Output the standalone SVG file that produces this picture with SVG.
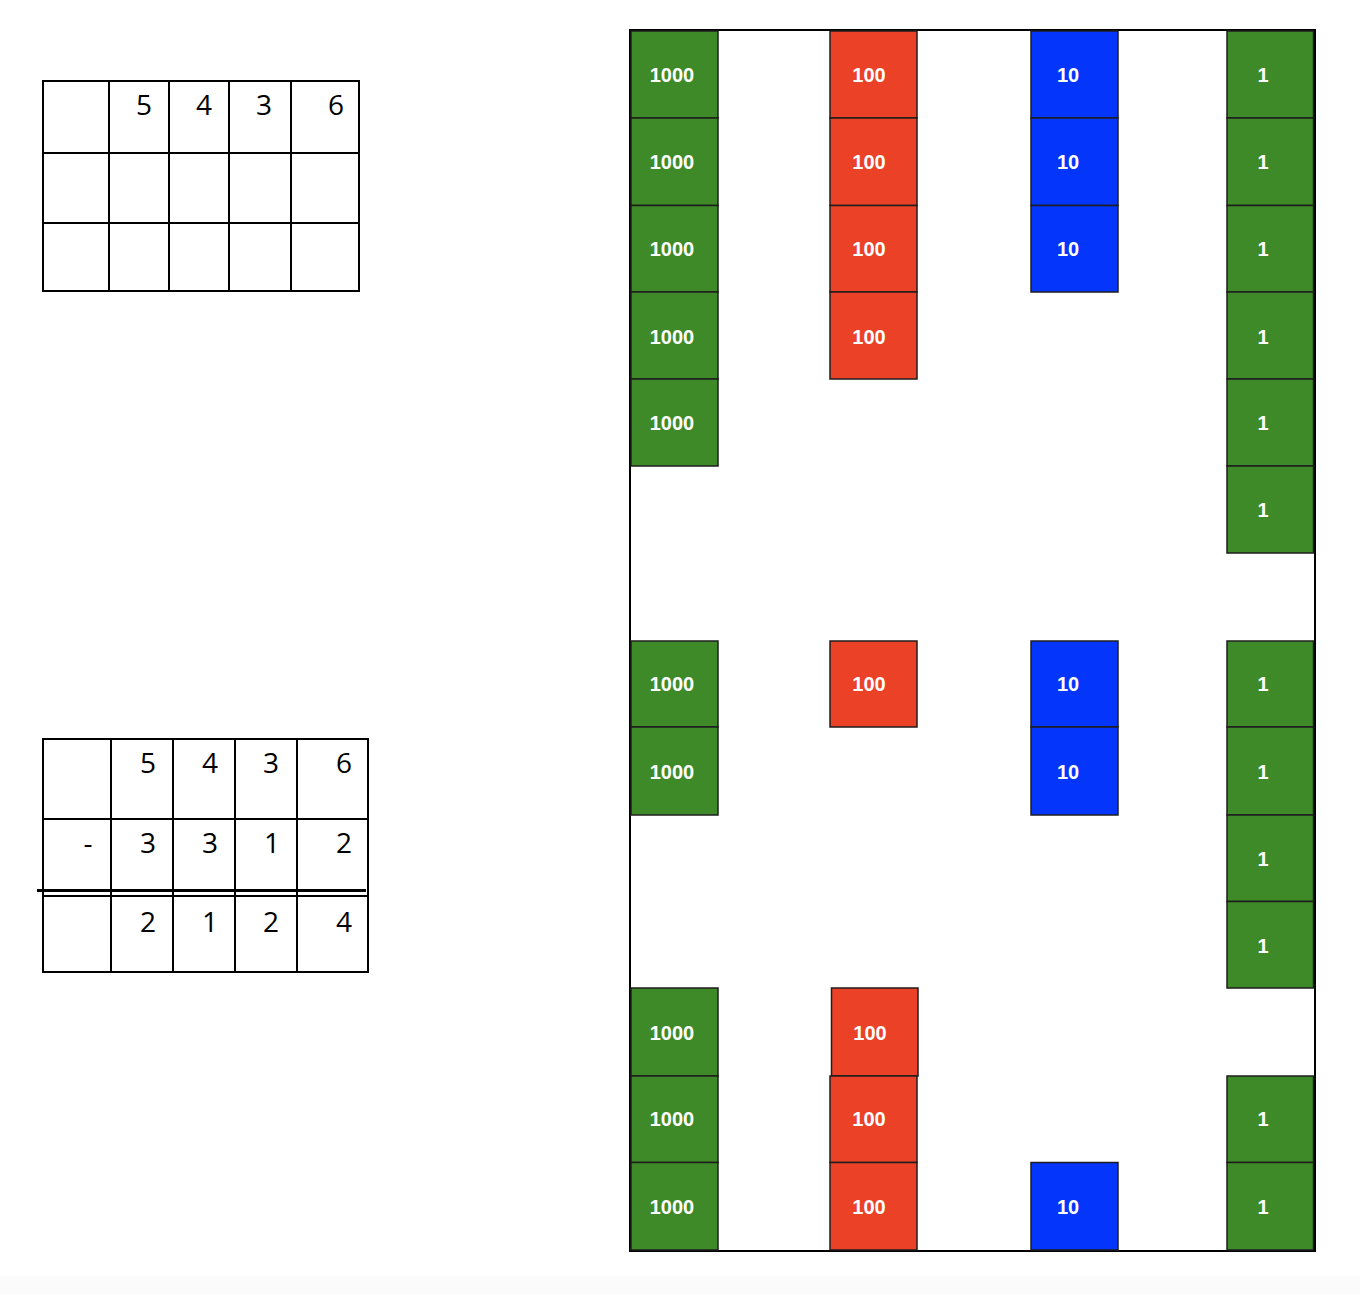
<svg xmlns="http://www.w3.org/2000/svg" width="1360" height="1294" viewBox="0 0 1360 1294">
<style>
.grid{fill:none;stroke:#000;stroke-width:2}
.num{font-family:"Open Sans","Liberation Sans",sans-serif;font-size:28px;fill:#000;text-anchor:middle}
.blk{stroke:#1e1e1e;stroke-width:1.5}
.th{fill:#3e8a28}
.hu{fill:#eb4126}
.te{fill:#0336fa}
.on{fill:#3e8a28}
.lbl{font-family:"Liberation Sans",Arial,sans-serif;font-weight:bold;font-size:20px;fill:#fff;text-anchor:middle}
</style>
<rect x="0" y="0" width="1360" height="1294" fill="#fff"/>
<rect x="0" y="1276" width="1360" height="18" fill="#fbfbfb"/>

<g id="table-top">
<rect class="grid" x="43" y="81" width="316" height="210"/>
<line class="grid" x1="109" y1="81" x2="109" y2="291"/>
<line class="grid" x1="169" y1="81" x2="169" y2="291"/>
<line class="grid" x1="229" y1="81" x2="229" y2="291"/>
<line class="grid" x1="291" y1="81" x2="291" y2="291"/>
<line class="grid" x1="43" y1="153" x2="359" y2="153"/>
<line class="grid" x1="43" y1="223" x2="359" y2="223"/>
<text class="num" x="144" y="115">5</text>
<text class="num" x="204" y="115">4</text>
<text class="num" x="264" y="115">3</text>
<text class="num" x="336" y="115">6</text>
</g>

<g id="table-bottom">
<rect class="grid" x="43" y="739" width="325" height="233"/>
<line class="grid" x1="111" y1="739" x2="111" y2="972"/>
<line class="grid" x1="173" y1="739" x2="173" y2="972"/>
<line class="grid" x1="235" y1="739" x2="235" y2="972"/>
<line class="grid" x1="297" y1="739" x2="297" y2="972"/>
<line class="grid" x1="43" y1="819" x2="368" y2="819"/>
<line class="grid" x1="43" y1="896" x2="368" y2="896"/>
<line x1="37" y1="890.5" x2="366" y2="890.5" stroke="#000" stroke-width="3"/>
<text class="num" x="148" y="773">5</text>
<text class="num" x="210" y="773">4</text>
<text class="num" x="271" y="773">3</text>
<text class="num" x="344" y="773">6</text>
<text class="num" x="88" y="853">-</text>
<text class="num" x="148" y="853">3</text>
<text class="num" x="210" y="853">3</text>
<text class="num" x="272" y="853">1</text>
<text class="num" x="344" y="853">2</text>
<text class="num" x="148" y="932">2</text>
<text class="num" x="210" y="932">1</text>
<text class="num" x="271" y="932">2</text>
<text class="num" x="344" y="932">4</text>
</g>

<g id="frame">
<rect x="630" y="30" width="685" height="1221" fill="#fff" stroke="#000" stroke-width="2"/>
</g>

<g id="thousands">
<rect class="blk th" x="631" y="31" width="87" height="87"/><text class="lbl" x="672" y="82">1000</text>
<rect class="blk th" x="631" y="118" width="87" height="87.5"/><text class="lbl" x="672" y="169">1000</text>
<rect class="blk th" x="631" y="205.5" width="87" height="86.5"/><text class="lbl" x="672" y="256">1000</text>
<rect class="blk th" x="631" y="292" width="87" height="87"/><text class="lbl" x="672" y="344">1000</text>
<rect class="blk th" x="631" y="379" width="87" height="87"/><text class="lbl" x="672" y="430">1000</text>
<rect class="blk th" x="631" y="641" width="87" height="86"/><text class="lbl" x="672" y="691">1000</text>
<rect class="blk th" x="631" y="727" width="87" height="88"/><text class="lbl" x="672" y="779">1000</text>
<rect class="blk th" x="631" y="988" width="87" height="88"/><text class="lbl" x="672" y="1040">1000</text>
<rect class="blk th" x="631" y="1076" width="87" height="86.5"/><text class="lbl" x="672" y="1126">1000</text>
<rect class="blk th" x="631" y="1162.5" width="87" height="87.5"/><text class="lbl" x="672" y="1214">1000</text>
</g>

<g id="hundreds">
<rect class="blk hu" x="830" y="31" width="87" height="87"/><text class="lbl" x="869" y="82">100</text>
<rect class="blk hu" x="830" y="118" width="87" height="87.5"/><text class="lbl" x="869" y="169">100</text>
<rect class="blk hu" x="830" y="205.5" width="87" height="86.5"/><text class="lbl" x="869" y="256">100</text>
<rect class="blk hu" x="830" y="292" width="87" height="87"/><text class="lbl" x="869" y="344">100</text>
<rect class="blk hu" x="830" y="641" width="87" height="86"/><text class="lbl" x="869" y="691">100</text>
<rect class="blk hu" x="831.5" y="988" width="86.5" height="88"/><text class="lbl" x="870" y="1040">100</text>
<rect class="blk hu" x="830" y="1076" width="87" height="86.5"/><text class="lbl" x="869" y="1126">100</text>
<rect class="blk hu" x="830" y="1162.5" width="87" height="87.5"/><text class="lbl" x="869" y="1214">100</text>
</g>

<g id="tens">
<rect class="blk te" x="1031" y="31" width="87" height="87"/><text class="lbl" x="1068" y="82">10</text>
<rect class="blk te" x="1031" y="118" width="87" height="87.5"/><text class="lbl" x="1068" y="169">10</text>
<rect class="blk te" x="1031" y="205.5" width="87" height="86.5"/><text class="lbl" x="1068" y="256">10</text>
<rect class="blk te" x="1031" y="641" width="87" height="86"/><text class="lbl" x="1068" y="691">10</text>
<rect class="blk te" x="1031" y="727" width="87" height="88"/><text class="lbl" x="1068" y="779">10</text>
<rect class="blk te" x="1031" y="1162.5" width="87" height="87.5"/><text class="lbl" x="1068" y="1214">10</text>
</g>

<g id="ones">
<rect class="blk on" x="1227" y="31" width="86.5" height="87"/><text class="lbl" x="1263" y="82">1</text>
<rect class="blk on" x="1227" y="118" width="86.5" height="87.5"/><text class="lbl" x="1263" y="169">1</text>
<rect class="blk on" x="1227" y="205.5" width="86.5" height="86.5"/><text class="lbl" x="1263" y="256">1</text>
<rect class="blk on" x="1227" y="292" width="86.5" height="87"/><text class="lbl" x="1263" y="344">1</text>
<rect class="blk on" x="1227" y="379" width="86.5" height="87"/><text class="lbl" x="1263" y="430">1</text>
<rect class="blk on" x="1227" y="466" width="86.5" height="87"/><text class="lbl" x="1263" y="517">1</text>
<rect class="blk on" x="1227" y="641" width="86.5" height="86"/><text class="lbl" x="1263" y="691">1</text>
<rect class="blk on" x="1227" y="727" width="86.5" height="88"/><text class="lbl" x="1263" y="779">1</text>
<rect class="blk on" x="1227" y="815" width="86.5" height="86.5"/><text class="lbl" x="1263" y="866">1</text>
<rect class="blk on" x="1227" y="901.5" width="86.5" height="86.5"/><text class="lbl" x="1263" y="953">1</text>
<rect class="blk on" x="1227" y="1076" width="86.5" height="86.5"/><text class="lbl" x="1263" y="1126">1</text>
<rect class="blk on" x="1227" y="1162.5" width="86.5" height="87.5"/><text class="lbl" x="1263" y="1214">1</text>
</g>
</svg>
